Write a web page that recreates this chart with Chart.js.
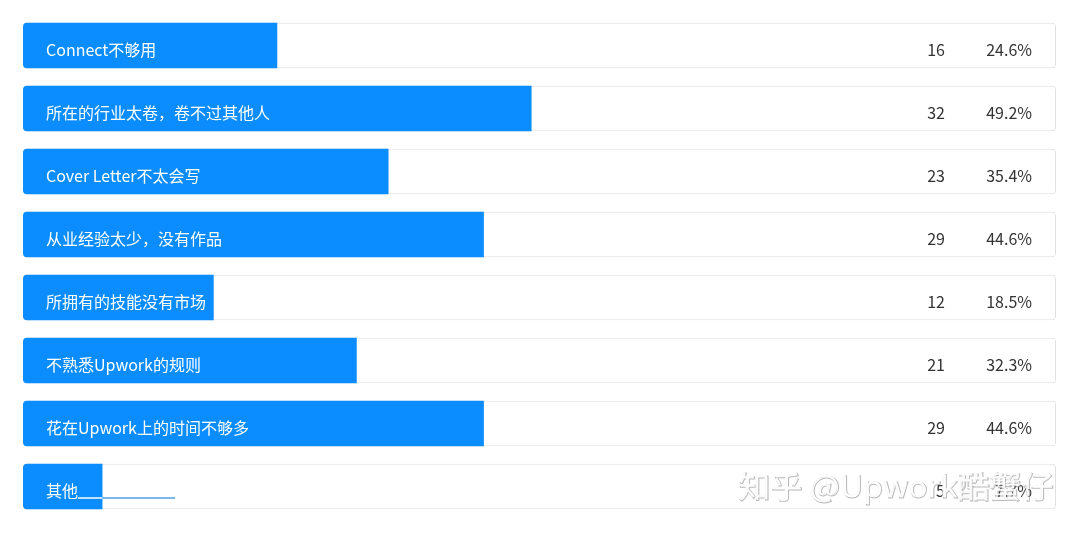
<!DOCTYPE html>
<html>
<head>
<meta charset="utf-8">
<script src="https://cdn.jsdelivr.net/npm/chart.js@4.4.1/dist/chart.umd.min.js"></script>
<style>
html,body{margin:0;padding:0;background:#fff;}
#wrap{width:1080px;height:534px;position:relative;}
</style>
</head>
<body>
<div id="wrap"><canvas id="c" width="1080" height="534"></canvas></div>
<script>
const categories = ['Connect不够用','所在的行业太卷，卷不过其他人','Cover Letter不太会写','从业经验太少，没有作品','所拥有的技能没有市场','不熟悉Upwork的规则','花在Upwork上的时间不够多','其他'];
const counts = [16, 32, 23, 29, 12, 21, 29, 5];
const percentLabels = ['24.6%','49.2%','35.4%','44.6%','18.5%','32.3%','44.6%','7.7%'];
const totalRespondents = 65;
const fullRow = [1,1,1,1,1,1,1,1];

const FONT = '"PingFang SC","Noto Sans CJK SC","Noto Sans",sans-serif';
const BLUE = '#0b8cff';

const labelPlugin = {
  id: 'rowText',
  afterDatasetsDraw(chart) {
    const ctx = chart.ctx;
    const y = chart.scales.y;
    const x = chart.scales.x;
    const area = chart.chartArea;
    ctx.save();
    ctx.font = '16px ' + FONT;
    ctx.textBaseline = 'alphabetic';
    categories.forEach((lab, i) => {
      const cy = y.getPixelForValue(i);
      ctx.fillStyle = '#ffffff';
      ctx.textAlign = 'left';
      ctx.fillText(lab, area.left + 23, cy + 10);
      if (lab === '其他') {
        const w = ctx.measureText(lab).width;
        const x0 = area.left + 23 + w;
        const x1 = area.left + 152;
        const barEnd = x.getPixelForValue(counts[i] / totalRespondents);
        ctx.lineWidth = 1.5;
        ctx.strokeStyle = '#ffffff';
        ctx.beginPath(); ctx.moveTo(x0, cy + 11.5); ctx.lineTo(Math.min(barEnd, x1), cy + 11.5); ctx.stroke();
        ctx.strokeStyle = '#4c9fe6';
        ctx.beginPath(); ctx.moveTo(barEnd, cy + 11.5); ctx.lineTo(x1, cy + 11.5); ctx.stroke();
      }
      ctx.fillStyle = '#333333';
      ctx.textAlign = 'right';
      ctx.fillText(String(counts[i]), area.right - 111, cy + 10);
      ctx.fillText(percentLabels[i], area.right - 24, cy + 10);
    });
    // watermark
    const wm = '知乎 @Upwork酷蟹仔';
    ctx.font = '30px ' + FONT;
    ctx.textAlign = 'left';
    const ww = ctx.measureText(wm).width;
    const scale = 315 / ww;
    ctx.translate(738, 497);
    ctx.scale(scale, 1);
    ctx.lineWidth = 1;
    ctx.strokeStyle = 'rgba(140,140,140,0.6)';
    ctx.strokeText(wm, 1, 1);
    ctx.fillStyle = 'rgba(255,255,255,0.9)';
    ctx.fillText(wm, 0, 0);
    ctx.restore();
  }
};

new Chart(document.getElementById('c'), {
  type: 'bar',
  data: {
    labels: categories,
    datasets: [
      {
        data: counts.map(v => v / totalRespondents),
        backgroundColor: BLUE,
        borderWidth: 0,
        borderRadius: {topLeft: 4, bottomLeft: 4, topRight: 0, bottomRight: 0},
        borderSkipped: false,
        grouped: false,
        order: 0,
        barPercentage: 1,
        categoryPercentage: 0.72
      },
      {
        data: fullRow,
        backgroundColor: '#ffffff',
        borderColor: '#e0e0e0',
        borderWidth: 1,
        borderRadius: 4,
        borderSkipped: false,
        grouped: false,
        order: 1,
        barPercentage: 1,
        categoryPercentage: 0.72
      }
    ]
  },
  options: {
    indexAxis: 'y',
    responsive: false,
    animation: false,
    devicePixelRatio: 1,
    layout: {padding: {left: 23, right: 24, top: 14, bottom: 16}},
    scales: {
      x: {display: false, min: 0, max: 1},
      y: {display: false}
    },
    plugins: {legend: {display: false}, tooltip: {enabled: false}}
  },
  plugins: [labelPlugin]
});
</script>
</body>
</html>
